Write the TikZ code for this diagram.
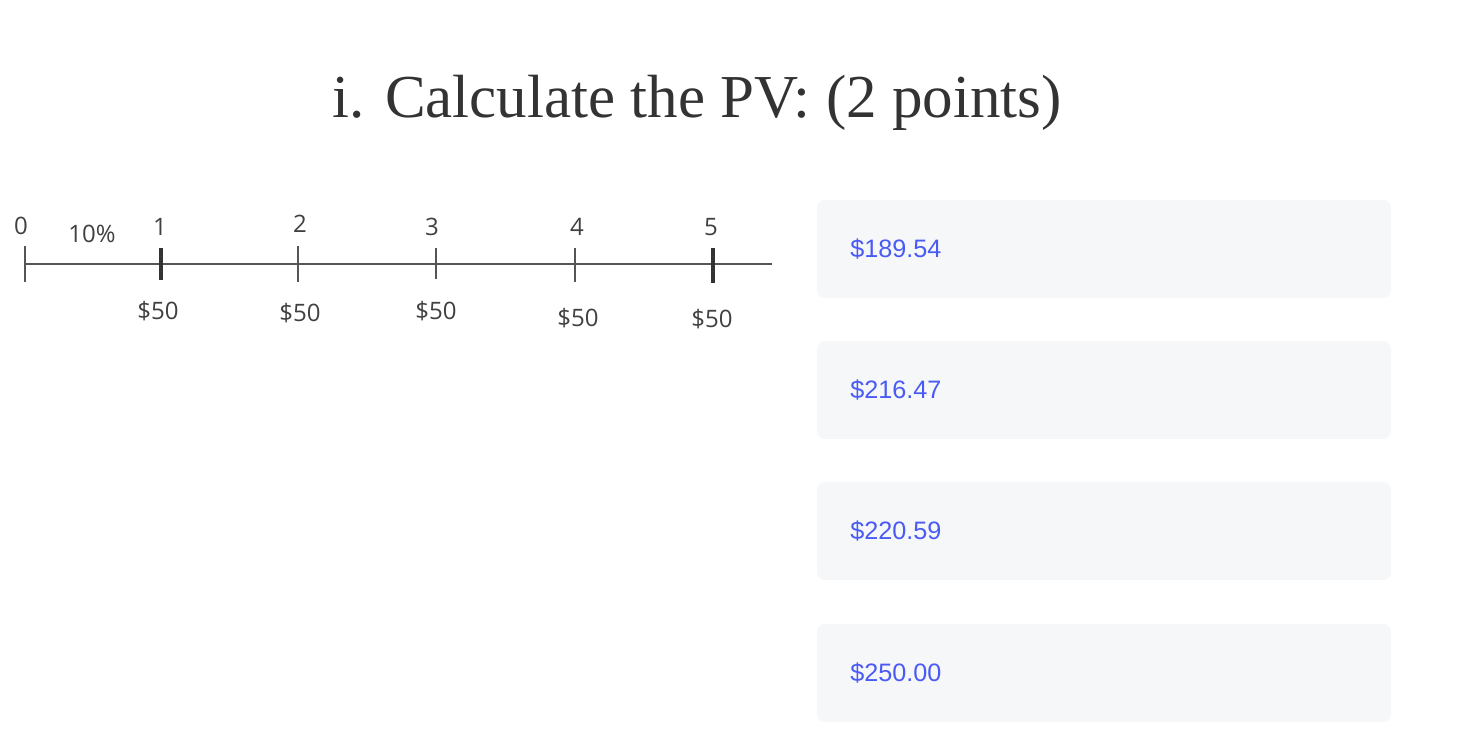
\documentclass[tikz,border=0pt]{standalone}
\usepackage{fontspec}
\setmainfont{Liberation Serif}
\newfontfamily\tlfont{Open Sans}
\newfontfamily\optfont{Liberation Sans}
\usepackage{tikz}
\definecolor{titlegray}{HTML}{333333}
\definecolor{linegray}{HTML}{555555}
\definecolor{optfill}{HTML}{F6F7F8}
\definecolor{optblue}{HTML}{4A5BF5}
\tikzset{
  tick/.style={line width=0.8pt,linegray},
  boldtick/.style={line width=1.6pt,black!80},
  tlabel/.style={font=\tlfont\fontsize{12}{14}\selectfont,text=black!75,inner sep=0pt},
  optbox/.style={fill=optfill,rounded corners=4pt,draw=none,minimum width=287pt,minimum height=49pt,inner sep=0pt},
  opttext/.style={font=\optfont\fontsize{12.6}{14}\selectfont,text=optblue,anchor=west,inner sep=0pt}
}
\begin{document}
\begin{tikzpicture}[line cap=butt,line join=round,x=0.5pt,y=-0.5pt]
\useasboundingbox (0,0) rectangle (1474,736);
\node[text=titlegray,font=\fontsize{30.5}{36}\selectfont,inner sep=0pt] (title) at (697,103) {i. Calculate the PV: (2 points)};
% time line
\coordinate (start) at (25,264);
\coordinate (end) at (772,264);
\draw [line width=1.pt,linegray] (start)-- (end);
\draw [tick] (25,246)-- (25,282);
\draw [boldtick] (161,248)-- (161,280);
\draw [tick] (298,246)-- (298,282);
\draw [tick] (436,248)-- (436,279);
\draw [tick] (575,248)-- (575,282);
\draw [boldtick] (713,248)-- (713,283);
\node[tlabel] (p0) at (21,226) {0};
\node[tlabel] (rate) at (92,234) {10\%};
\node[tlabel] (p1) at (160,227) {1};
\node[tlabel] (p2) at (300,224) {2};
\node[tlabel] (p3) at (432,227) {3};
\node[tlabel] (p4) at (577,227) {4};
\node[tlabel] (p5) at (711,227) {5};
\node[tlabel] (c1) at (158,311) {\$50};
\node[tlabel] (c2) at (300,313) {\$50};
\node[tlabel] (c3) at (436,311) {\$50};
\node[tlabel] (c4) at (578,318) {\$50};
\node[tlabel] (c5) at (712,319) {\$50};
% answer options
\node[optbox] (optA) at (1104,249) {};
\node[optbox] (optB) at (1104,390) {};
\node[optbox] (optC) at (1104,531) {};
\node[optbox] (optD) at (1104,673) {};
\node[opttext] (ansA) at (850,249) {\$189.54};
\node[opttext] (ansB) at (850,390) {\$216.47};
\node[opttext] (ansC) at (850,531) {\$220.59};
\node[opttext] (ansD) at (850,673) {\$250.00};
\end{tikzpicture}
\end{document}
